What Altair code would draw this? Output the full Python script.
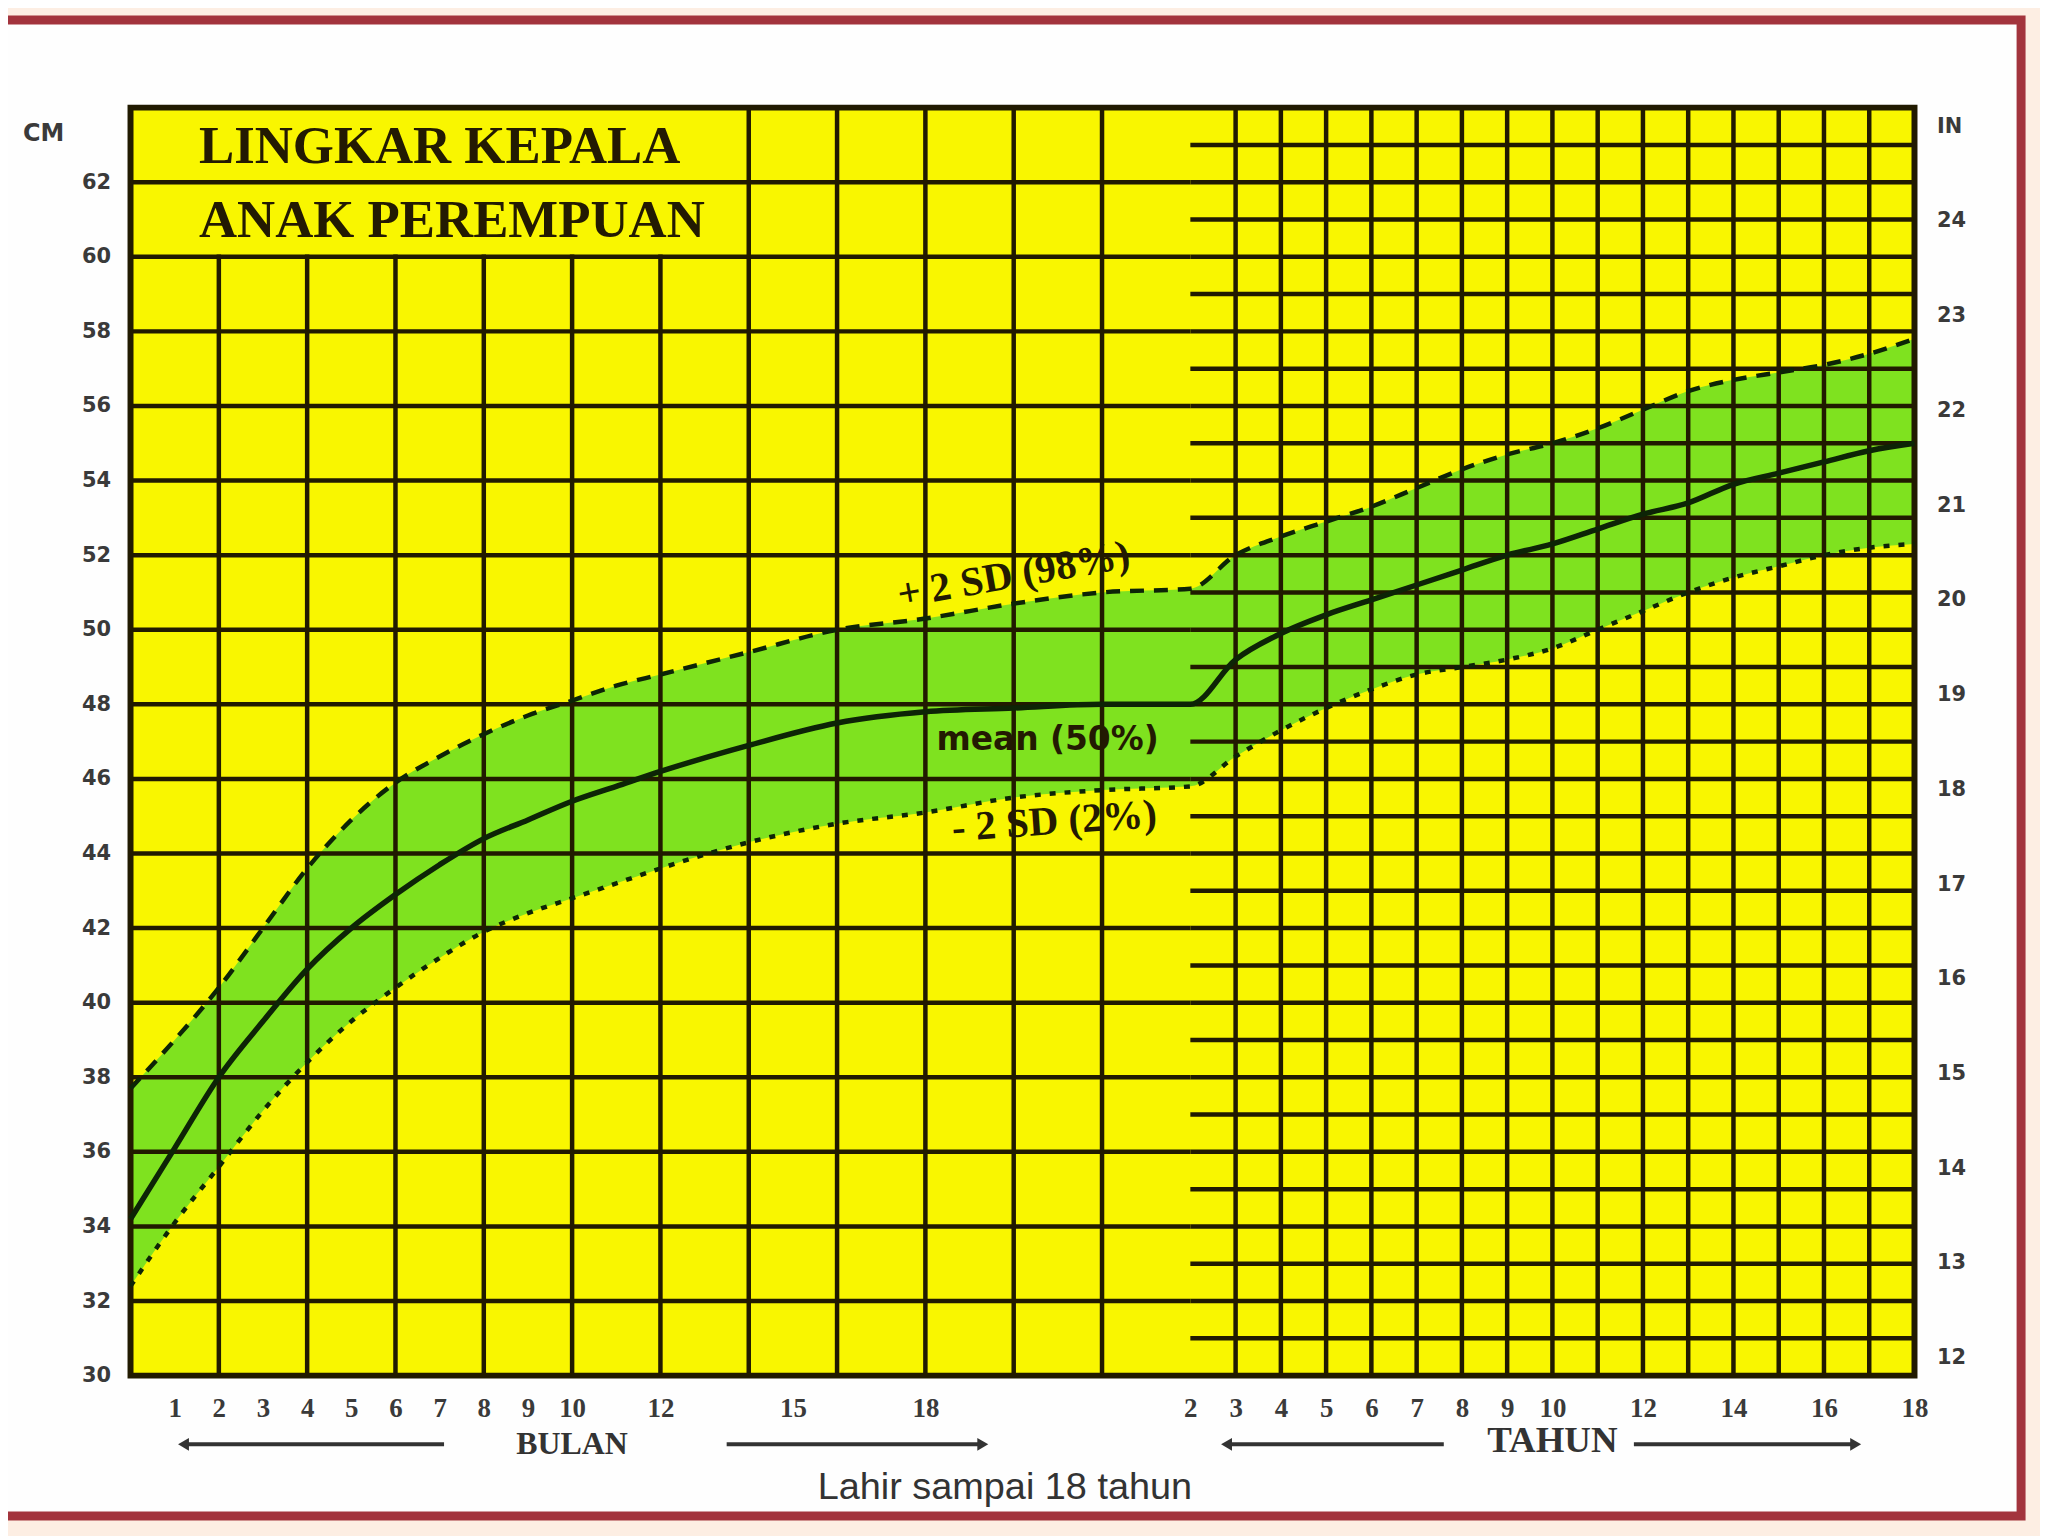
import altair as alt
import pandas as pd

# ---------------- data ----------------
months = [0, 1, 2, 3, 4, 5, 6, 7, 8, 9, 10, 11, 12, 14, 16, 18, 20, 22, 24]
mean_m = [34.2, 36.1, 38.0, 39.5, 40.9, 42.0, 42.9, 43.7, 44.4, 44.9, 45.4, 45.8, 46.2, 46.9, 47.5, 47.8, 47.9, 48.0, 48.0]
upper_m = [37.7, 39.0, 40.4, 42.0, 43.6, 44.9, 45.9, 46.6, 47.2, 47.7, 48.1, 48.5, 48.8, 49.4, 50.0, 50.3, 50.7, 51.0, 51.1]
lower_m = [32.4, 34.1, 35.6, 37.1, 38.4, 39.5, 40.4, 41.2, 41.9, 42.4, 42.8, 43.2, 43.6, 44.3, 44.8, 45.1, 45.5, 45.7, 45.8]

years = [2, 3, 4, 5, 6, 7, 8, 9, 10, 11, 12, 13, 14, 15, 16, 17, 18]
mean_y = [48.0, 49.2, 49.9, 50.4, 50.8, 51.2, 51.6, 52.0, 52.3, 52.7, 53.1, 53.4, 53.9, 54.2, 54.5, 54.8, 55.0]
upper_y = [51.1, 52.0, 52.5, 52.9, 53.3, 53.8, 54.3, 54.7, 55.0, 55.4, 55.9, 56.4, 56.7, 56.9, 57.1, 57.4, 57.8]
lower_y = [45.8, 46.6, 47.3, 47.9, 48.4, 48.8, 49.0, 49.2, 49.5, 50.0, 50.5, 51.0, 51.4, 51.7, 52.0, 52.2, 52.3]

cm_labels = [30, 32, 34, 36, 38, 40, 42, 44, 46, 48, 50, 52, 54, 56, 58, 60, 62]
inch_labels = [12, 13, 14, 15, 16, 17, 18, 19, 20, 21, 22, 23, 24, 25]   # 25 -> "IN"
month_ticks = [1, 2, 3, 4, 5, 6, 7, 8, 9, 10, 12, 15, 18]
year_ticks = [2, 3, 4, 5, 6, 7, 8, 9, 10, 12, 14, 16, 18]

title_lines = ["LINGKAR KEPALA", "ANAK PEREMPUAN"]
label_plus = "+ 2 SD (98%)"
label_mean = "mean (50%)"
label_minus = "- 2 SD (2%)"

# ---------------- layout ----------------
W, H = 1791, 1273
W_LEFT = 1064
K = ((W - W_LEFT) / 16) / (W_LEFT / 24)      # month-units per year in the right part
P_END = 24 + 16 * K


def pos(field):
    return f"datum.unit == 'y' ? 24 + (datum.{field} - 2) * {K:.6f} : datum.{field}"


YELLOW = "#f9f600"
GREEN = "#7fe21f"
GRID = "#211a00"
INK = "#0d2406"
TXT = "#231a02"
LAB = "#3a3a3a"

xscale = alt.Scale(domain=[0, P_END], nice=False, zero=False)
yscale = alt.Scale(domain=[30, 64], nice=False, zero=False)

x_tick_pos = [float(m) for m in month_ticks] + [24 + (y - 2) * K for y in year_ticks]
xaxis = alt.Axis(
    values=x_tick_pos,
    labelExpr=f"datum.value < 23.5 ? format(datum.value, 'd') : format(2 + (datum.value - 24) / {K:.6f}, '.0f')",
    title=None, domain=False, ticks=False, grid=False, zindex=3,
    labelPadding=20, labelFont="Liberation Serif", labelFontSize=27, labelFontWeight="bold",
    labelColor=LAB, labelOverlap=False, labelFlush=False, labelBound=False,
)


def X(f):
    return alt.X(f + ":Q", scale=xscale, axis=xaxis)


def Y(f, axis=None):
    return alt.Y(f + ":Q", scale=yscale, axis=axis)


left_axis = alt.Axis(
    orient="left", values=cm_labels, title=None, domain=False, ticks=False, grid=False, zindex=3,
    labelFont="DejaVu Sans", labelFontSize=21, labelFontWeight="bold", labelColor=LAB,
    labelPadding=20,
)
right_axis = alt.Axis(
    orient="right", values=[i * 2.54 for i in inch_labels], title=None, domain=False, ticks=False,
    grid=False, zindex=3, labelExpr="datum.value > 63 ? 'IN' : format(datum.value / 2.54, '.0f')",
    labelFont="DejaVu Sans", labelFontSize=21, labelFontWeight="bold", labelColor=LAB,
    labelPadding=22,
)

one = pd.DataFrame({"k": [0]})

# ---------------- tables ----------------
curves = pd.DataFrame({
    "unit": ["m"] * len(months) + ["y"] * len(years),
    "age": months + years,
    "mean": mean_m + mean_y,
    "upper": upper_m + upper_y,
    "lower": lower_m + lower_y,
})

v_left = list(range(2, 23, 2))
v_right = list(range(3, 18))
vgrid = pd.DataFrame({
    "unit": ["m"] * len(v_left) + ["y"] * len(v_right),
    "age": v_left + v_right,
    "bottom": [30] * (len(v_left) + len(v_right)),
    "top": [60 if m <= 12 else 64 for m in v_left] + [64] * len(v_right),
})

h_left = list(range(32, 63, 2))
h_right = list(range(31, 64))
hgrid = pd.DataFrame({
    "unit": ["m"] * len(h_left) + ["y"] * len(h_right),
    "a0": [0] * len(h_left) + [2] * len(h_right),
    "a1": [24] * len(h_left) + [18] * len(h_right),
    "cm": h_left + h_right,
})

# ---------------- layers ----------------
frame = alt.Chart(one).mark_rect(fill="#fefefe", stroke="#a3343d", strokeWidth=9).encode(
    x=alt.value(-151), x2=alt.value(1898), y=alt.value(-88), y2=alt.value(1414))

plot_bg = alt.Chart(one).mark_rect(fill=YELLOW).encode(
    x=alt.value(0), x2=alt.value(W), y=alt.value(0), y2=alt.value(H))

band = alt.Chart(curves).transform_calculate(p=pos("age")).mark_area(
    color=GREEN, opacity=1, interpolate="monotone").encode(
    x=X("p"), y=Y("lower"), y2="upper:Q")

hlines = alt.Chart(hgrid).transform_calculate(p0=pos("a0"), p1=pos("a1")).mark_rule(
    color=GRID, strokeWidth=4.5).encode(
    x=X("p0"), x2="p1:Q", y=Y("cm", left_axis))

vlines = alt.Chart(vgrid).transform_calculate(p=pos("age")).mark_rule(
    color=GRID, strokeWidth=4.5, strokeCap="square").encode(
    x=X("p"), y=Y("bottom"), y2="top:Q")

border = alt.Chart(one).mark_rect(fill=None, stroke=GRID, strokeWidth=6).encode(
    x=alt.value(0), x2=alt.value(W), y=alt.value(0), y2=alt.value(H))

base_curve = alt.Chart(curves).transform_calculate(p=pos("age"))
mean_line = base_curve.mark_line(color=INK, strokeWidth=5.5, interpolate="monotone").encode(
    x=X("p"), y=Y("mean"))
upper_line = base_curve.mark_line(color=INK, strokeWidth=4.5, strokeDash=[14, 10],
                                  interpolate="monotone").encode(x=X("p"), y=Y("upper"))
lower_line = base_curve.mark_line(color=INK, strokeWidth=4.5, strokeDash=[6, 9],
                                  interpolate="monotone").encode(x=X("p"), y=Y("lower"))

titles = alt.Chart(pd.DataFrame({"t": title_lines, "unit": ["m", "m"], "age": [1.55, 1.55],
                                 "cm": [62.95, 60.95]})).transform_calculate(p=pos("age")).mark_text(
    align="left", baseline="middle", font="Liberation Serif", fontSize=53, fontWeight="bold",
    color=TXT).encode(x=X("p"), y=Y("cm"), text="t:N")

ann_plus = alt.Chart(pd.DataFrame({"t": [label_plus], "unit": ["m"], "age": [20.0], "cm": [51.45]})
                     ).transform_calculate(p=pos("age")).mark_text(
    align="center", baseline="middle", font="Liberation Serif", fontSize=41, fontWeight="bold",
    angle=350, color=TXT).encode(x=X("p"), y=Y("cm"), text="t:N")

ann_mean = alt.Chart(pd.DataFrame({"t": [label_mean], "unit": ["m"], "age": [18.25], "cm": [47.05]})
                     ).transform_calculate(p=pos("age")).mark_text(
    align="left", baseline="middle", font="DejaVu Sans", fontSize=33, fontWeight="bold",
    color=TXT).encode(x=X("p"), y=Y("cm"), text="t:N")

ann_minus = alt.Chart(pd.DataFrame({"t": [label_minus], "unit": ["m"], "age": [18.6], "cm": [44.65]})
                      ).transform_calculate(p=pos("age")).mark_text(
    align="left", baseline="middle", font="Liberation Serif", fontSize=41, fontWeight="bold",
    angle=356, color=TXT).encode(x=X("p"), y=Y("cm"), text="t:N")

cm_unit = alt.Chart(pd.DataFrame({"t": ["CM"], "cm": [63.3]})).mark_text(
    align="left", baseline="middle", font="DejaVu Sans", fontSize=24, fontWeight="bold",
    color=LAB).encode(x=alt.value(-108), y=Y("cm"), text="t:N")

inch_axis = alt.Chart(pd.DataFrame({"inch": inch_labels})).transform_calculate(
    cm="datum.inch * 2.54").mark_point(opacity=0).encode(
    x=alt.value(W), y=Y("cm", right_axis))

# bottom captions
BOT_Y = 1342
cap_bulan = alt.Chart(pd.DataFrame({"t": ["BULAN"], "unit": ["m"], "age": [10.0]})
                      ).transform_calculate(p=pos("age")).mark_text(
    align="center", baseline="middle", font="Liberation Serif", fontSize=32, fontWeight="bold",
    color="#333333").encode(x=X("p"), y=alt.value(BOT_Y), text="t:N")
cap_tahun = alt.Chart(pd.DataFrame({"t": ["TAHUN"], "unit": ["y"], "age": [10.0]})
                      ).transform_calculate(p=pos("age")).mark_text(
    align="center", baseline="middle", font="Liberation Serif", fontSize=37, fontWeight="bold",
    color="#333333").encode(x=X("p"), y=alt.value(BOT_Y - 3), text="t:N")

arrows = pd.DataFrame({
    "unit": ["m", "m", "y", "y"],
    "a0": [1.2, 13.5, 2.8, 11.8],
    "a1": [7.1, 19.3, 7.6, 16.7],
})
arrow_lines = alt.Chart(arrows).transform_calculate(p0=pos("a0"), p1=pos("a1")).mark_rule(
    color="#333333", strokeWidth=4).encode(x=X("p0"), x2="p1:Q", y=alt.value(BOT_Y))
heads = pd.DataFrame({
    "unit": ["m", "m", "y", "y"],
    "age": [1.2, 19.3, 2.8, 16.7],
    "dir": ["L", "R", "L", "R"],
})
head_left = alt.Chart(heads).transform_filter("datum.dir == 'L'").transform_calculate(
    p=pos("age")).mark_point(shape="triangle-left", filled=True, size=160, color="#333333",
                             opacity=1).encode(x=X("p"), y=alt.value(BOT_Y))
head_right = alt.Chart(heads).transform_filter("datum.dir == 'R'").transform_calculate(
    p=pos("age")).mark_point(shape="triangle-right", filled=True, size=160, color="#333333",
                             opacity=1).encode(x=X("p"), y=alt.value(BOT_Y))

footer = alt.Chart(pd.DataFrame({"t": ["Lahir sampai 18 tahun"], "unit": ["m"], "age": [19.8]})
                   ).transform_calculate(p=pos("age")).mark_text(
    align="center", baseline="middle", font="Liberation Sans", fontSize=38,
    color="#333333").encode(x=X("p"), y=alt.value(1386), text="t:N")

chart = alt.layer(
    frame, plot_bg, band, hlines, vlines, border,
    mean_line, upper_line, lower_line,
    titles, ann_plus, ann_mean, ann_minus, cm_unit, inch_axis,
    arrow_lines, head_left, head_right, cap_bulan, cap_tahun, footer,
).resolve_axis(y="independent").properties(
    width=W, height=H,
    autosize=alt.AutoSizeParams(type="none"),
    padding={"left": 123, "top": 97, "right": 126, "bottom": 158},
    background="#fdeee3",
).configure_view(stroke=None)

chart.save("out.html", embed_options={"renderer": "svg", "actions": False})
